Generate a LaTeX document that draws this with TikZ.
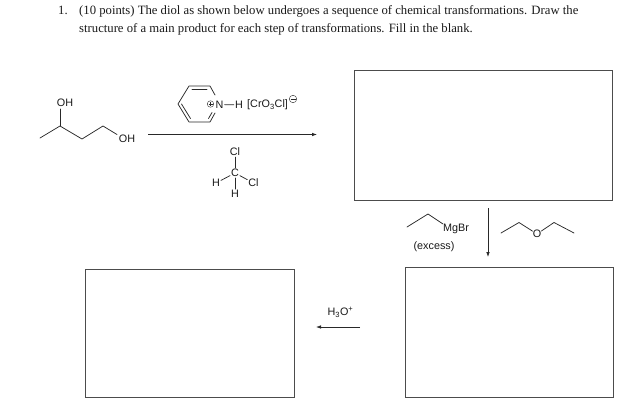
\documentclass[tikz,border=0pt]{standalone}
\usepackage{fontspec}
\setmainfont{Liberation Sans}
\newfontfamily\serifq{Liberation Serif}
\usetikzlibrary{arrows.meta}
\definecolor{inkq}{gray}{0.16}
\tikzset{
  x=1pt,y=-1pt,
  qtext/.style={inner sep=0,anchor=base west,font=\serifq\fontsize{12.7}{14}\selectfont,text=black!90},
  lab/.style={inner sep=0,font=\fontsize{10.8}{12}\selectfont,text=black!90},
  bond/.style={draw=inkq,line width=0.75pt,line cap=round,shorten >=1pt,shorten <=1pt},
  sk/.style={draw=inkq,line width=0.75pt,line cap=round,line join=round},
  box/.style={draw=black!70,line width=0.9pt},
  rxn/.style={draw=inkq,line width=0.8pt,-{Latex[length=5pt,width=3.6pt]}}
}
\begin{document}
\begin{tikzpicture}
\useasboundingbox (0,0) rectangle (640,418);
% question text
\node[qtext] (num) at (58,14) {1.};
\node[qtext] (l1) at (79,14) {(10 points) The diol as shown below undergoes a sequence of chemical transformations. Draw the};
\node[qtext] (l2) at (79,32) {structure of a main product for each step of transformations. Fill in the blank.};
% answer boxes
\draw[box] (354,70) rectangle (612,200);
\draw[box] (85,269) rectangle (294,397);
\draw[box] (405,267) rectangle (613,397);
% diol
\node[lab] (oh1) at (65,103) {OH};
\node[lab] (oh2) at (127,139) {OH};
\coordinate (d1) at (40,138);
\coordinate (d2) at (60,126);
\coordinate (d3) at (82,139);
\coordinate (d4) at (103,126);
\coordinate (d5) at (117,134.5);
\coordinate (d6) at (60,109);
\draw[sk] (d1) -- (d2) -- (d3) -- (d4) -- (d5);
\draw[sk] (d2) -- (d6);
% pyridinium
\coordinate (r1) at (178,104);
\coordinate (r2) at (189,86);
\coordinate (r3) at (210,86);
\coordinate (r4) at (215,95);
\coordinate (r5) at (215,113);
\coordinate (r6) at (210,122);
\coordinate (r7) at (189,122);
\draw[sk] (r4) -- (r3) -- (r2) -- (r1) -- (r7) -- (r6) -- (r5);
\draw[sk] (192,89.5) -- (207,89.5);
\draw[sk] (181.5,104) -- (190.5,118.5);
\draw[sk] (208.5,118.5) -- (212,112.5);
\node[lab] (nq) at (219.5,104.5) {N};
\node[draw=inkq,circle,line width=0.4pt,minimum size=6.5pt,inner sep=0] (pl) at (210.5,104) {};
\draw[inkq,line width=0.4pt] (208.5,104) -- (212.5,104) (210.5,102) -- (210.5,106);
\node[lab] (hq) at (239,105) {H};
\draw[bond] (nq) -- (hq);
\node[lab,anchor=west] (cr) at (247,105) {[CrO\textsubscript{3}Cl]};
\node[draw=inkq,circle,line width=0.4pt,minimum size=7.5pt,inner sep=0] (mi) at (293,99) {};
\draw[inkq,line width=0.4pt] (290.5,99) -- (295.5,99);
% main arrow
\coordinate (a1) at (148,134.5);
\coordinate (a2) at (317,134.5);
\draw[rxn] (a1) -- (a2);
% CH2Cl2
\node[lab] (cl1) at (235,152) {Cl};
\node[lab] (cc) at (235,173) {C};
\node[lab] (h1) at (216,183) {H};
\node[lab] (cl2) at (253.5,183) {Cl};
\node[lab] (h2) at (235,194) {H};
\draw[bond] (cc) -- (cl1);
\draw[bond] (cc) -- (h1);
\draw[bond] (cc) -- (cl2);
\draw[bond] (cc) -- (h2);
% Grignard
\coordinate (g1) at (407,227);
\coordinate (g2) at (428,214);
\node[lab,anchor=west] (mg) at (443,229) {MgBr};
\draw[sk] (g1) -- (g2) -- (mg.north west);
\node[lab] (ex) at (434,246.5) {(excess)};
\coordinate (b1) at (488,208);
\coordinate (b2) at (488,257);
\draw[rxn] (b1) -- (b2);
% ether
\node[lab] (oq) at (537,234) {O};
\coordinate (e1) at (501,233);
\coordinate (e2) at (519,222.5);
\coordinate (e3) at (554,222.5);
\coordinate (e4) at (574,233);
\draw[sk] (e1) -- (e2) -- (oq) -- (e3) -- (e4);
% H3O+
\node[lab] (h3o) at (340.5,312.5) {H\textsubscript{3}O\textsuperscript{+}};
\coordinate (c1) at (360,327);
\coordinate (c2) at (316,327);
\draw[rxn] (c1) -- (c2);
\end{tikzpicture}
\end{document}
